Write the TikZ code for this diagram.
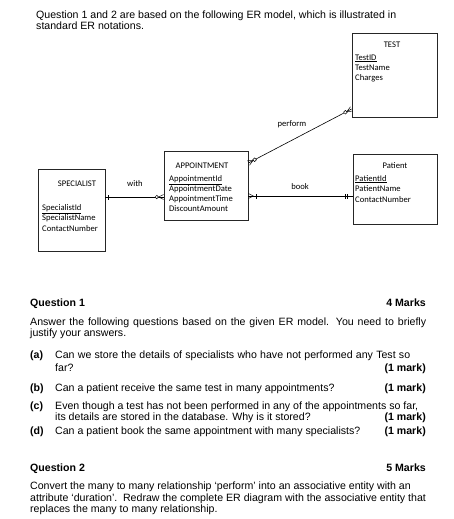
\documentclass[tikz,border=0pt]{standalone}
\usepackage{fontspec}
\setmainfont{Liberation Sans}
\newfontfamily\carlito{Carlito}
\usetikzlibrary{calc}
\tikzset{
  txt/.style={inner sep=0pt, anchor=base west, font=\fontsize{10.6}{11}\selectfont},
  txtb/.style={inner sep=0pt, anchor=base west, font=\fontsize{10.6}{11}\selectfont\bfseries},
  txtr/.style={inner sep=0pt, anchor=base east, font=\fontsize{10.6}{11}\selectfont\bfseries},
  entity/.style={draw=black!85, line width=0.8pt, inner sep=0pt, minimum width=#1},
  ttl/.style={inner sep=0pt, anchor=base, font=\fontsize{8.6}{9}\selectfont\carlito},
  attr/.style={inner sep=0pt, anchor=base west, font=\fontsize{8.6}{9}\selectfont\carlito},
  rel/.style={line width=0.6pt},
  mk/.style={line width=0.5pt},
}
\begin{document}
\begin{tikzpicture}[x=1pt,y=-1pt]
\useasboundingbox (0,0) rectangle (454,519);
\fill[white] (0,0) rectangle (454,519);

% header
\node[txt] (h1) at (36,18.5) {Question 1 and 2 are based on the following ER model, which is illustrated in};
\node[txt] (h2) at (36,29.5) {standard ER notations.};

% entities
\node[entity=67pt, minimum height=82pt] (spec) at (71.5,210) {};
\node[entity=84pt, minimum height=69pt] (appt) at (206,185.5) {};
\node[entity=85pt, minimum height=84pt] (test) at (394.5,75) {};
\node[entity=84pt, minimum height=70pt] (pat) at (395,189) {};

\node[ttl] (specT) at (77,186) {SPECIALIST};
\node[attr] (spec1) at (42,210) {\underline{SpecialistId}};
\node[attr] (spec2) at (42,220.5) {SpecialistName};
\node[attr] (spec3) at (42,231) {ContactNumber};

\node[ttl] (apptT) at (202,168.5) {APPOINTMENT};
\node[attr] (appt1) at (169,181) {\underline{AppointmentId}};
\node[attr] (appt2) at (169,191) {AppointmentDate};
\node[attr] (appt3) at (169,201) {AppointmentTime};
\node[attr] (appt4) at (169,211) {DiscountAmount};

\node[ttl] (testT) at (392,48) {TEST};
\node[attr] (test1) at (355,60) {\underline{TestID}};
\node[attr] (test2) at (355,70.5) {TestName};
\node[attr] (test3) at (355,80.5) {Charges};

\node[ttl] (patT) at (395,168) {Patient};
\node[attr] (pat1) at (355,181) {\underline{PatientId}};
\node[attr] (pat2) at (355,191.5) {PatientName};
\node[attr] (pat3) at (355,202) {ContactNumber};

% relationship labels
\node[ttl] (withL) at (135,186) {with};
\node[ttl] (bookL) at (300,189) {book};
\node[ttl] (perfL) at (292,126) {perform};

% connector end points
\path (spec.east) ++(0,-13) coordinate (w1);
\coordinate (w2) at (appt.west |- w1);
\path (appt.east) ++(0,10.5) coordinate (b1);
\coordinate (b2) at (pat.west |- b1);
\path (appt.east) ++(0,-22.5) coordinate (p1);
\path (test.west) ++(0,34) coordinate (p2);

% with
\draw[rel] (w1) -- (w2);
\draw[mk] ($(w1)!3pt!(w2)$) -- ($(w1)!3pt!(w2)!2.5pt!90:(w2)$);
\draw[mk] ($(w1)!3pt!(w2)$) -- ($(w1)!3pt!(w2)!2.5pt!-90:(w2)$);
\draw[mk] ($(w2)!5pt!(w1)$) -- ($(w2)!2.5pt!90:(w1)$);
\draw[mk] ($(w2)!5pt!(w1)$) -- ($(w2)!2.5pt!-90:(w1)$);
\draw[mk, fill=white] ($(w2)!6.8pt!(w1)$) circle (1.7pt);

% book
\draw[rel] (b1) -- (b2);
\draw[mk] ($(b1)!5pt!(b2)$) -- ($(b1)!2.5pt!90:(b2)$);
\draw[mk] ($(b1)!5pt!(b2)$) -- ($(b1)!2.5pt!-90:(b2)$);
\draw[mk] ($(b1)!7.5pt!(b2)$) -- ($(b1)!7.5pt!(b2)!2.5pt!90:(b2)$);
\draw[mk] ($(b1)!7.5pt!(b2)$) -- ($(b1)!7.5pt!(b2)!2.5pt!-90:(b2)$);
\draw[mk] ($(b2)!5pt!(b1)$) -- ($(b2)!5pt!(b1)!2.5pt!90:(b1)$);
\draw[mk] ($(b2)!5pt!(b1)$) -- ($(b2)!5pt!(b1)!2.5pt!-90:(b1)$);
\draw[mk] ($(b2)!7pt!(b1)$) -- ($(b2)!7pt!(b1)!2.5pt!90:(b1)$);
\draw[mk] ($(b2)!7pt!(b1)$) -- ($(b2)!7pt!(b1)!2.5pt!-90:(b1)$);

% perform
\draw[rel] (p1) -- (p2);
\draw[mk] ($(p1)!5pt!(p2)$) -- ($(p1)!2.5pt!90:(p2)$);
\draw[mk] ($(p1)!5pt!(p2)$) -- ($(p1)!2.5pt!-90:(p2)$);
\draw[mk, fill=white] ($(p1)!7pt!(p2)$) circle (1.8pt);
\draw[mk] ($(p2)!5pt!(p1)$) -- ($(p2)!2.5pt!90:(p1)$);
\draw[mk] ($(p2)!5pt!(p1)$) -- ($(p2)!2.5pt!-90:(p1)$);
\draw[mk, fill=white] ($(p2)!7pt!(p1)$) circle (1.8pt);

% Question 1
\node[txtb] (q1) at (30,306.7) {Question 1};
\node[txtr] (q1m) at (426,306.7) {4 Marks};
\node[txt] (q1l1) at (30,325.7) {\makebox[396pt][s]{Answer the following questions based on the given ER model. You need to briefly}};
\node[txt] (q1l2) at (30,336.7) {justify your answers.};

\node[txtb] (la) at (30,358.3) {(a)};
\node[txt] (ta1) at (55,358.3) {\makebox[355pt][s]{Can we store the details of specialists who have not performed any Test so}};
\node[txt] (ta2) at (55,371) {far?};
\node[txtr] (ma) at (426,371) {(1 mark)};

\node[txtb] (lb) at (30,391.7) {(b)};
\node[txt] (tb1) at (55,391.7) {Can a patient receive the same test in many appointments?};
\node[txtr] (mb) at (426,391.7) {(1 mark)};

\node[txtb] (lc) at (30,409) {(c)};
\node[txt] (tc1) at (55,409) {Even though a test has not been performed in any of the appointments so far,};
\node[txt] (tc2) at (55,420.7) {its details are stored in the database. Why is it stored?};
\node[txtr] (mc) at (426,420.7) {(1 mark)};

\node[txtb] (ld) at (30,434.3) {(d)};
\node[txt] (td1) at (55,434.3) {Can a patient book the same appointment with many specialists?};
\node[txtr] (md) at (426,434.3) {(1 mark)};

% Question 2
\node[txtb] (q2) at (30,471) {Question 2};
\node[txtr] (q2m) at (426,471) {5 Marks};
\node[txt] (q2l1) at (30,489.3) {Convert the many to many relationship ‘perform’ into an associative entity with an};
\node[txt] (q2l2) at (30,501.7) {attribute ‘duration’.\, Redraw the complete ER diagram with the associative entity that};
\node[txt] (q2l3) at (30,512.3) {replaces the many to many relationship.};
\end{tikzpicture}
\end{document}
